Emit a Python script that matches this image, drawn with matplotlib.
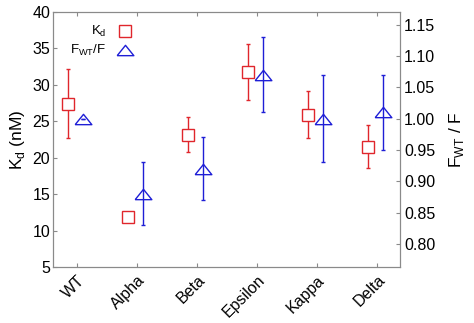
import matplotlib.pyplot as plt
import numpy as np
from matplotlib.lines import Line2D

plt.rcParams["font.family"] = ["Liberation Sans", "DejaVu Sans"]

# data
variants = ["WT", "Alpha", "Beta", "Epsilon", "Kappa", "Delta"]
kd = [27.4, 11.8, 23.1, 31.7, 25.9, 21.5]
kd_err = [4.7, 0.0, 2.4, 3.8, 3.2, 2.9]
fwt = [1.00, 0.88, 0.92, 1.07, 1.00, 1.01]
fwt_err = [0.0, 0.05, 0.05, 0.06, 0.07, 0.06]

RED = "#e0262c"
BLUE = "#1e1ed6"
GREY = "#8a8a8a"

# flattened open triangle
tri = [(-1, -0.62), (1, -0.62), (0, 0.62), (-1, -0.62)]

fig = plt.figure(figsize=(4.74, 3.23), dpi=100)
ax = fig.add_axes([0.1118, 0.1734, 0.7321, 0.7906])
ax2 = ax.twinx()

x = np.arange(len(variants))

ax.errorbar(x - 0.15, kd, yerr=kd_err, fmt="none", ecolor=RED,
            elinewidth=1.0, capsize=1.6, capthick=1.0, zorder=2)
ax.plot(x - 0.15, kd, ls="none", marker="s", ms=8.3, mfc="white",
        mec=RED, mew=1.0, zorder=3)

ax2.errorbar(x + 0.1, fwt, yerr=fwt_err, fmt="none", ecolor=BLUE,
             elinewidth=1.0, capsize=1.6, capthick=1.0, zorder=2)
ax2.plot(x + 0.1, fwt, ls="none", marker=tri, ms=12, mfc="none",
         mec=BLUE, mew=1.0, zorder=3)

ax.set_xlim(-0.4, 5.38)
ax.set_ylim(5, 40)
ax2.set_ylim(0.763, 1.171)

ax.set_xticks(x)
ax.set_xticklabels(variants, rotation=45, ha="right", rotation_mode="anchor",
                   fontsize=11.5)
ax.set_yticks(np.arange(5, 41, 5))
ax2.set_yticks([0.80, 0.85, 0.90, 0.95, 1.00, 1.05, 1.10, 1.15])
ax2.set_yticklabels([f"{v:.2f}" for v in ax2.get_yticks()])

for a in (ax, ax2):
    for sp in a.spines.values():
        sp.set_color(GREY)
        sp.set_linewidth(0.8)
ax.tick_params(axis="x", direction="in", top=True, length=3, color=GREY,
               width=0.8, pad=4)
ax.tick_params(axis="y", direction="in", length=3, color=GREY, width=0.8,
               labelsize=11.5, pad=2)
ax2.tick_params(axis="y", direction="in", length=3, color=GREY, width=0.8,
                labelsize=11.5, pad=3)

ax.set_ylabel("K$_\\mathregular{d}$ (nM)", fontsize=12.5, labelpad=4)
ax2.set_ylabel("F$_\\mathregular{WT}$ / F", fontsize=12.5, labelpad=8)

handles = [
    Line2D([], [], ls="none", marker="s", ms=8.3, mfc="white", mec=RED, mew=1.0),
    Line2D([], [], ls="none", marker=tri, ms=12, mfc="none", mec=BLUE, mew=1.0),
]
ax2.legend(handles, ["K$_\\mathregular{d}$", "F$_\\mathregular{WT}$/F"],
           loc="upper left", bbox_to_anchor=(0.015, 0.997), frameon=False,
           markerfirst=False, fontsize=9.5, handletextpad=0.8,
           labelspacing=0.3, handlelength=1.2)

fig.savefig("out.png", dpi=100)
